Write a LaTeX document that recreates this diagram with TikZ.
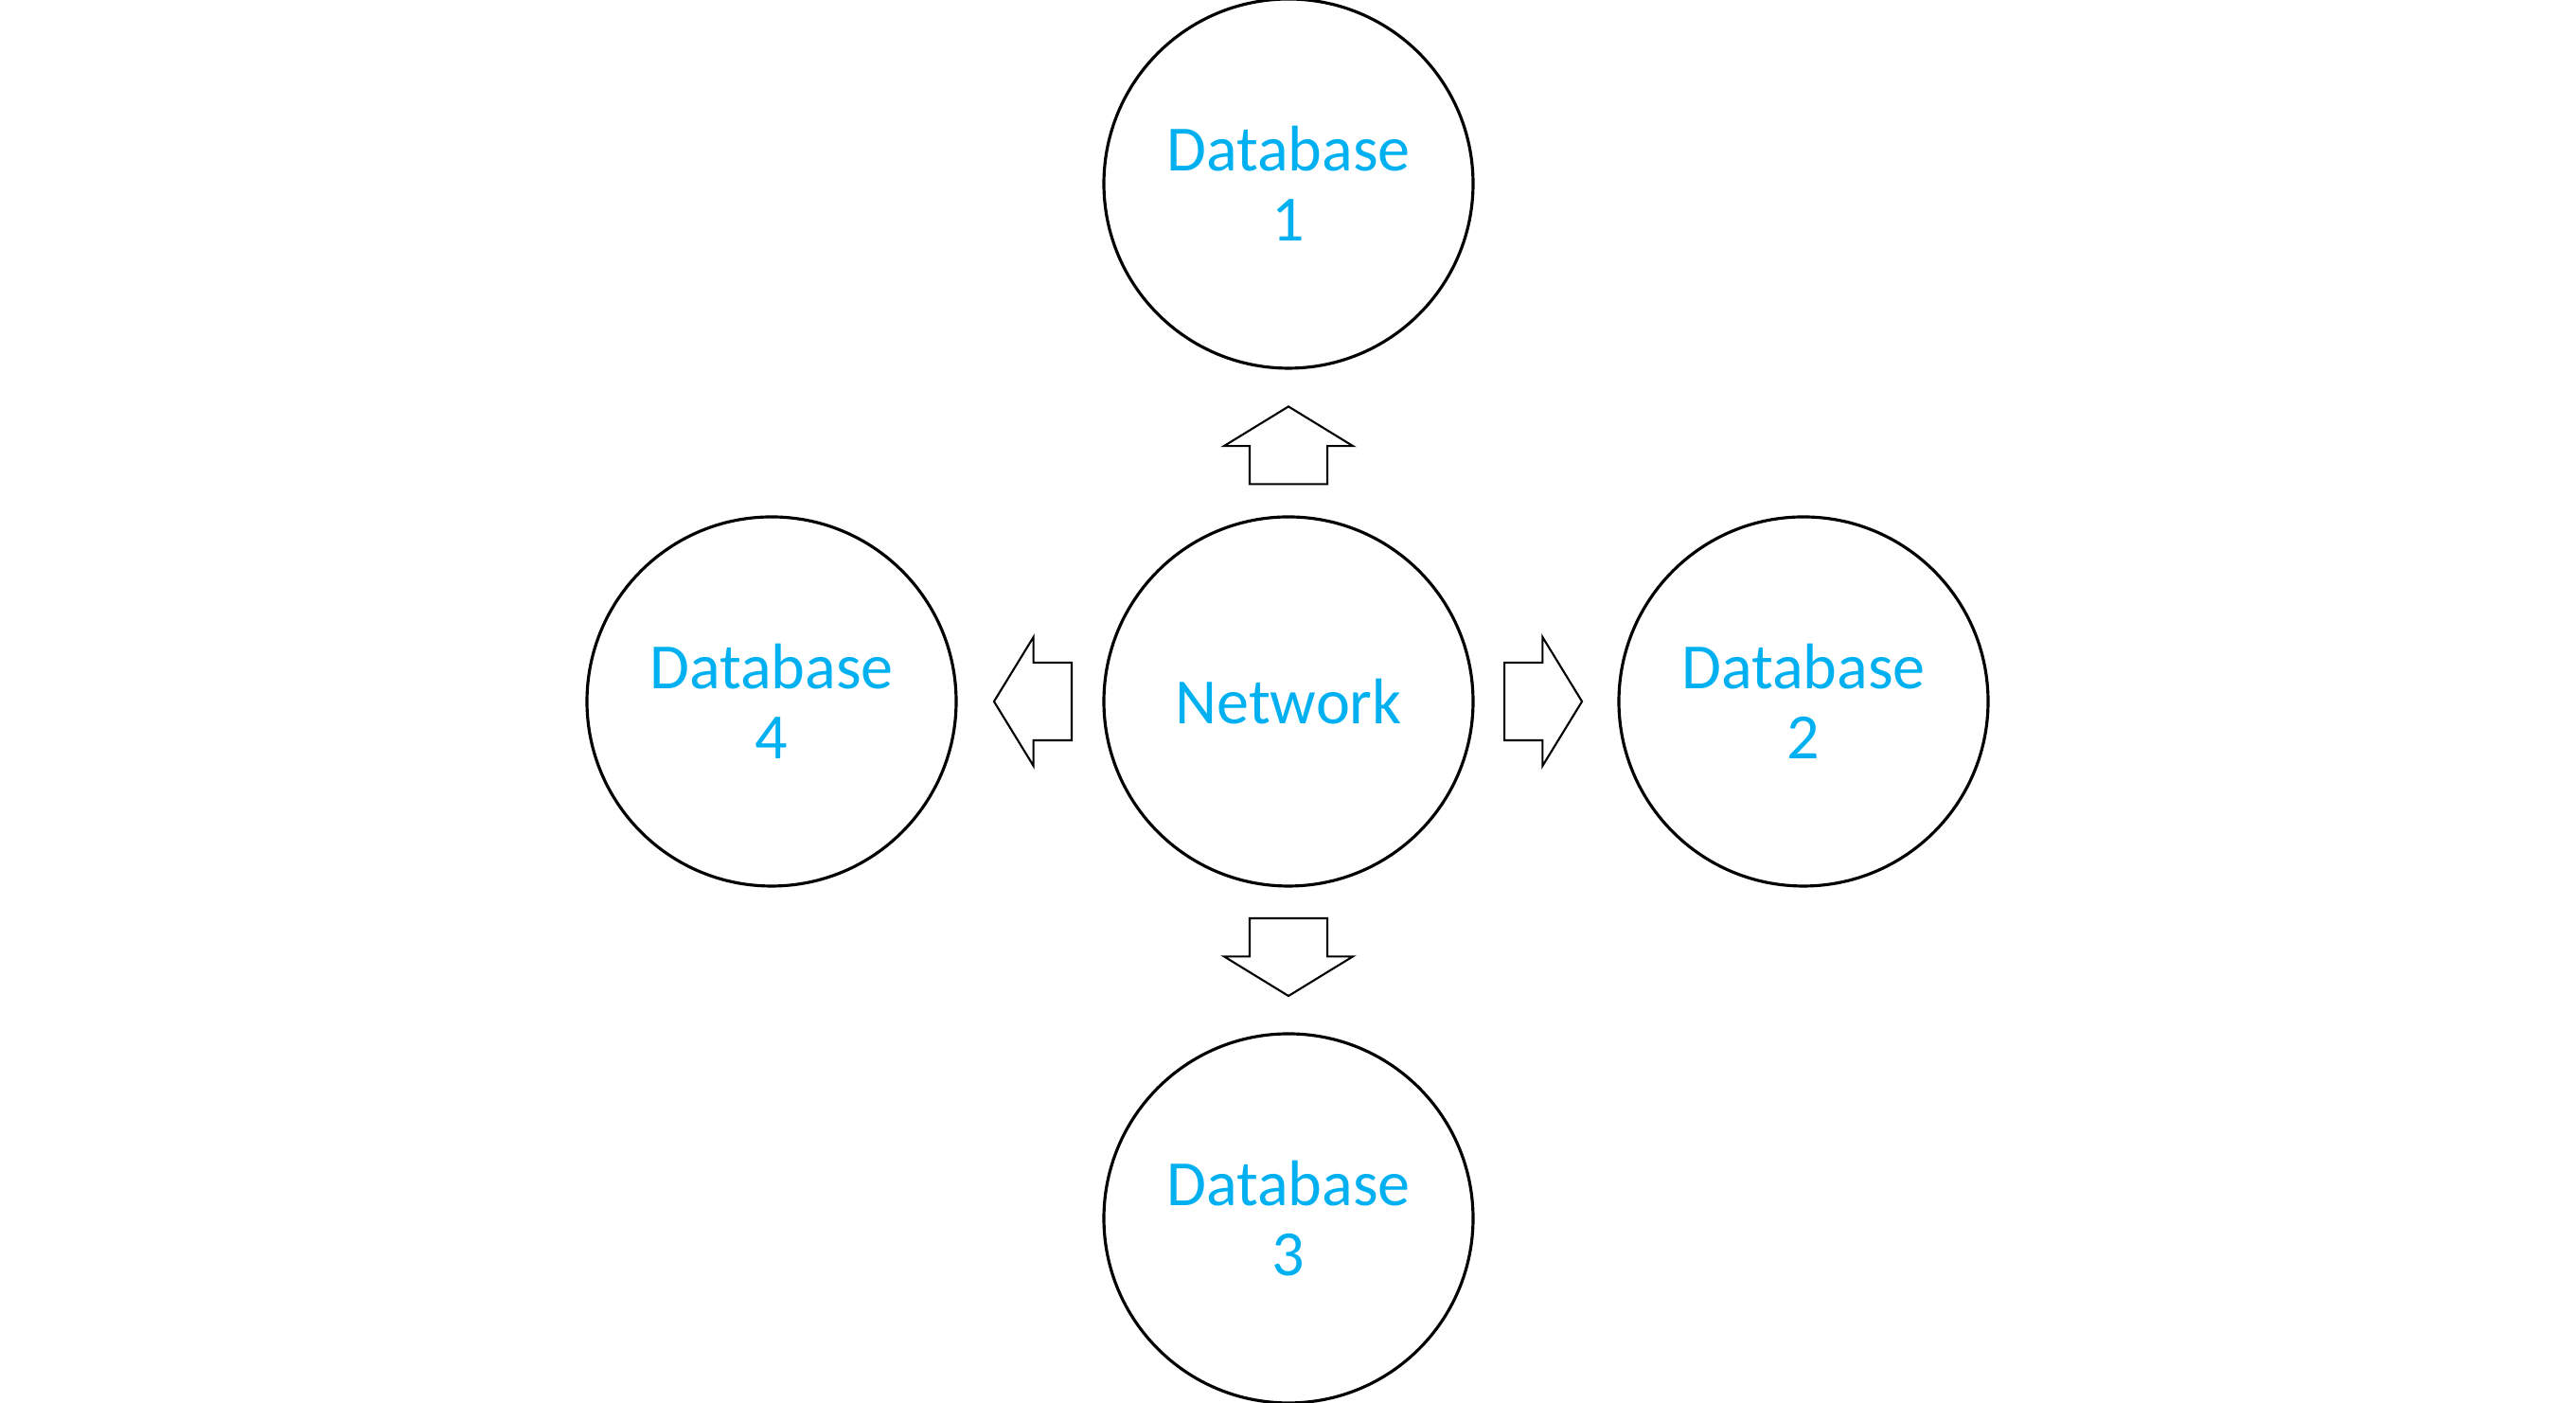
\documentclass[tikz,border=0pt]{standalone}
\usepackage{fontspec}
\setmainfont{Carlito}
\usepackage{tikz}
\usetikzlibrary{shapes.arrows,calc}
\definecolor{dbblue}{HTML}{00B0F0}
\newcommand{\dbfont}{\fontsize{19.4}{21.2}\selectfont}

\begin{document}
\begin{tikzpicture}[
  db/.style={circle, draw, line width=0.9pt, minimum size=3.9cm, inner sep=0pt, align=center, text=dbblue, font=\dbfont},
  blk/.style={single arrow, draw, line width=0.6pt, inner sep=0pt, inner ysep=0.4cm, minimum height=0.82cm,
    single arrow head extend=0.27cm, single arrow tip angle=117, anchor=tail}
]
  \useasboundingbox (0,0) rectangle (27.21,14.82);
  % network in the middle, databases around it
  \node[db] (net) at (13.61, 7.41) {Network};
  \node[db] (db1) at (13.61, 12.88) {Database\\1};
  \node[db] (db2) at (19.05, 7.41) {Database\\2};
  \node[db] (db3) at (13.61, 1.95) {Database\\3};
  \node[db] (db4) at (8.15, 7.41) {Database\\4};
  % block arrows from the network out
  \node[blk, rotate=90]  (a1) at ($(net)!0.5!(db1)+(0,-0.45)$) {};
  \node[blk]             (a2) at ($(net)!0.5!(db2)+(-0.45,0)$) {};
  \node[blk, rotate=-90] (a3) at ($(net)!0.5!(db3)+(0,0.45)$) {};
  \node[blk, rotate=180] (a4) at ($(net)!0.5!(db4)+(0.45,0)$) {};
\end{tikzpicture}
\end{document}
